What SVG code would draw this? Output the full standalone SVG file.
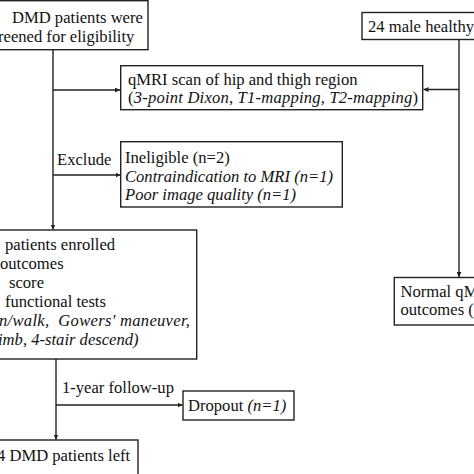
<svg xmlns="http://www.w3.org/2000/svg" width="474" height="474" viewBox="0 0 474 474">
<style>
.box{fill:#fff;stroke:#222;stroke-width:1.4}
.ln{fill:none;stroke:#222;stroke-width:1.4}
text{font-family:"Liberation Serif","Times New Roman",serif;font-size:16.6px;fill:#111;white-space:pre}
.i{font-style:italic}
</style>
<defs>
<marker id="ah" viewBox="0 0 10 10" refX="10" refY="5" markerWidth="5" markerHeight="5" orient="auto" markerUnits="userSpaceOnUse">
<path d="M0,0 L10,5 L0,10 z" fill="#222"/>
</marker>
</defs>
<rect width="474" height="474" fill="#fff"/>
<g id="connectors">
<path class="ln" d="M53,50 V229.5" marker-end="url(#ah)"/>
<path class="ln" d="M53,90 H120" marker-end="url(#ah)"/>
<path class="ln" d="M53,175 H120.5" marker-end="url(#ah)"/>
<path class="ln" d="M459,39.5 V277" marker-end="url(#ah)"/>
<path class="ln" d="M459,89.5 H423.5" marker-end="url(#ah)"/>
<path class="ln" d="M56,359 V439.5" marker-end="url(#ah)"/>
<path class="ln" d="M56,405 H182.5" marker-end="url(#ah)"/>
<text x="57" y="165">Exclude</text>
<text x="62" y="393">1-year follow-up</text>
</g>
<g id="screened">
<rect class="box" x="-5" y="0.7" width="153" height="49"/>
<text x="12" y="23">DMD patients were</text>
<text x="-2" y="42">reened for eligibility</text>
</g>
<g id="healthy">
<rect class="box" x="362" y="12.5" width="120" height="27"/>
<text x="368" y="32">24 male healthy</text>
</g>
<g id="qmri">
<rect class="box" x="120.7" y="65.7" width="302" height="44"/>
<text x="128" y="85">qMRI scan of hip and thigh region</text>
<text x="128" y="103" textLength="290" lengthAdjust="spacing">(<tspan class="i">3-point Dixon</tspan>, <tspan class="i">T1-mapping</tspan>, <tspan class="i">T2-mapping</tspan>)</text>
</g>
<g id="exclude">
<rect class="box" x="120.7" y="141.7" width="221.6" height="65.3"/>
<text x="125" y="163">Ineligible (n=2)</text>
<text x="125" y="182" class="i">Contraindication to MRI (n=1)</text>
<text x="125" y="200" class="i">Poor image quality (n=1)</text>
</g>
<g id="enrolled">
<rect class="box" x="-5" y="230" width="201.7" height="129"/>
<text x="5" y="250">patients enrolled</text>
<text x="0" y="269">outcomes</text>
<text x="9" y="288">score</text>
<text x="5" y="307">functional tests</text>
<text x="-1" y="326" class="i" textLength="191" lengthAdjust="spacing">n/walk,  Gowers' maneuver,</text>
<text x="-2" y="345" class="i">imb, 4-stair descend)</text>
</g>
<g id="normal">
<rect class="box" x="394.3" y="277.5" width="90" height="47.5"/>
<text x="400.5" y="297">Normal qMRI</text>
<text x="400.5" y="315">outcomes (n=24)</text>
</g>
<g id="dropout">
<rect class="box" x="183" y="391" width="111" height="29"/>
<text x="188" y="411">Dropout <tspan class="i">(n=1)</tspan></text>
</g>
<g id="left">
<rect class="box" x="-5" y="440" width="143" height="40"/>
<text x="-3" y="461">4 DMD patients left</text>
</g>
</svg>
